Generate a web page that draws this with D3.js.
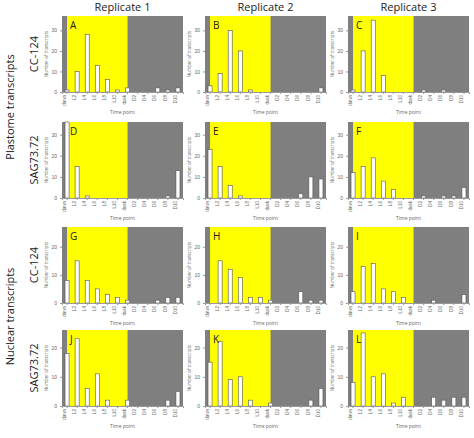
<!DOCTYPE html>
<html><head><meta charset="utf-8">
<script src="https://cdn.jsdelivr.net/npm/d3@7"></script>
<style>body{margin:0;background:#fff}</style>
</head><body>
<svg id="canvas" width="474" height="438"></svg>
<script>
let timePoints = ['dawn', 'L2', 'L4', 'L6', 'L8', 'L10', 'dusk', 'D2', 'D4', 'D6', 'D8', 'D10'];
let replicates = ['Replicate 1', 'Replicate 2', 'Replicate 3'];
let letters = ['A', 'B', 'C', 'D', 'E', 'F', 'G', 'H', 'I', 'J', 'K', 'L'];
let yMax = [37, 36, 27, 26];
let yTicks = [[0, 10, 20, 30], [0, 10, 20, 30], [0, 10, 20], [0, 10, 20]];

let valuesA = [1, 10, 28, 13, 6, 1, 2, 0, 0, 2, 1, 2];
let valuesB = [3, 9, 30, 20, 1, 0, 0, 0, 0, 0, 0, 2];
let valuesC = [1, 20, 35, 8, 0, 0, 0, 1, 0, 1, 0, 0];
let valuesD = [36, 15, 1, 0, 0, 0, 0, 0, 0, 0, 1, 13];
let valuesE = [23, 15, 6, 1, 0, 0, 0, 0, 0, 2, 10, 9];
let valuesF = [12, 15, 19, 8, 4, 0, 0, 1, 0, 1, 1, 5];
let valuesG = [8, 15, 8, 5, 3, 2, 1, 0, 0, 1, 2, 2];
let valuesH = [0, 15, 12, 9, 2, 2, 1, 0, 0, 4, 1, 1];
let valuesI = [4, 13, 14, 5, 4, 2, 0, 0, 1, 0, 0, 3];
let valuesJ = [18, 23, 6, 11, 2, 0, 2, 0, 0, 0, 2, 5];
let valuesK = [15, 22, 9, 10, 2, 0, 1, 0, 0, 0, 2, 6];
let valuesL = [8, 25, 10, 11, 1, 3, 0, 0, 3, 2, 3, 3];
let panelValues = [valuesA, valuesB, valuesC, valuesD, valuesE, valuesF, valuesG, valuesH, valuesI, valuesJ, valuesK, valuesL];

let canvas = d3.select('#canvas');
let colX = [62, 205, 348];
let rowY = [16, 122, 227, 330];
let plotW = 121, plotH = 76;
let font = 'Open Sans, Noto Sans, sans-serif';

replicates.forEach((r, i) => {
	canvas.append('text').attr('x', colX[i] + plotW / 2).attr('y', 11)
		.attr('text-anchor', 'middle').attr('font-size', 11).attr('font-family', font).attr('fill', '#222').text(r);
});

let sideLabel = (text, x, y, size) => {
	canvas.append('text').attr('transform', `translate(${x},${y}) rotate(-90)`)
		.attr('text-anchor', 'middle').attr('font-size', size).attr('font-family', font).attr('fill', '#222').text(text);
};
sideLabel('Plastome transcripts', 14, (rowY[0] + rowY[1] + plotH) / 2, 11);
sideLabel('Nuclear transcripts', 14, (rowY[2] + rowY[3] + plotH) / 2, 11);
rowY.forEach((y, i) => sideLabel(i % 2 === 0 ? 'CC-124' : 'SAG73.72', 38, y + plotH / 2, 11));

panelValues.forEach((values, p) => {
	let row = Math.floor(p / 3), col = p % 3;
	let x = d3.scaleBand().domain(timePoints).range([0, plotW]);
	let y = d3.scaleLinear().domain([0, yMax[row]]).range([plotH, 0]);
	let g = canvas.append('g').attr('transform', `translate(${colX[col]},${rowY[row]})`);
	let bw = x.bandwidth();
	g.append('rect').attr('width', plotW).attr('height', plotH).attr('fill', '#7f7f7f');
	g.append('rect').attr('x', x('dawn') + bw / 2).attr('width', x('dusk') - x('dawn'))
		.attr('height', plotH).attr('fill', '#ffff00');
	g.selectAll('.bar').data(values).enter().append('rect')
		.attr('x', (d, i) => x(timePoints[i]) + bw * 0.3)
		.attr('width', bw * 0.4)
		.attr('y', (d) => y(d))
		.attr('height', (d) => plotH - y(d))
		.attr('fill', '#fff').attr('stroke', '#555').attr('stroke-width', (d) => d > 0 ? 0.6 : 0);
	let ya = g.append('g').call(d3.axisLeft(y).tickValues(yTicks[row]).tickSize(2));
	ya.select('.domain').remove();
	ya.selectAll('text').attr('font-size', 5).attr('fill', '#666');
	ya.selectAll('line').attr('stroke', '#999');
	let xa = g.append('g').attr('transform', `translate(0,${plotH})`).call(d3.axisBottom(x).tickSize(2));
	xa.select('.domain').attr('stroke', '#999');
	xa.selectAll('line').attr('stroke', '#999');
	xa.selectAll('text').attr('font-size', 4.5).attr('fill', '#666')
		.attr('transform', 'rotate(-90)').attr('text-anchor', 'end').attr('dx', '-3').attr('dy', '-0.3em').attr('x', 0).attr('y', 0);
	g.append('text').attr('x', plotW / 2).attr('y', plotH + 22).attr('text-anchor', 'middle')
		.attr('font-size', 5).attr('font-family', font).attr('fill', '#666').text('Time point');
	g.append('text').attr('transform', `translate(-14,${plotH / 2}) rotate(-90)`).attr('text-anchor', 'middle')
		.attr('font-size', 4.5).attr('font-family', font).attr('fill', '#666').text('Number of transcripts');
	g.append('text').attr('x', 8).attr('y', 13).attr('font-size', 10).attr('font-family', font).attr('fill', '#222').text(letters[p]);
});
</script>
</body></html>
